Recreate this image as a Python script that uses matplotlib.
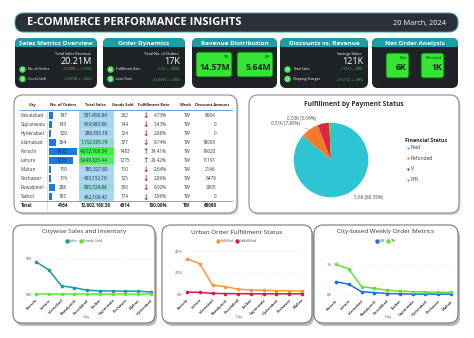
import math
import matplotlib
matplotlib.use('Agg')
import matplotlib.pyplot as plt
from matplotlib.patches import FancyBboxPatch, Circle, Rectangle
from matplotlib.lines import Line2D
from matplotlib.colors import LinearSegmentedColormap, Normalize

plt.rcParams['font.family'] = ['Open Sans', 'DejaVu Sans']

W, H = 474, 338

# ---- table data ----
cities = ['Faisalabad', 'Gujranwala', 'Hyderabad', 'Islamabad', 'Karachi',
          'Lahore', 'Multan', 'Peshawar', 'Rawalpindi', 'Sialkot']
orders = [197, 143, 120, 364, 1433, 1225, 110, 119, 288, 165]
total_sales = [531456.84, 419983.86, 289305.18, 1152505.74, 4612769.34,
               3449825.44, 385327.80, 403152.10, 895724.86, 462109.42]
goods_sold = [202, 144, 124, 377, 1483, 1275, 110, 125, 300, 174]
fulfil_rate = [4.73, 3.43, 2.88, 8.74, 34.41, 29.42, 2.64, 2.86, 6.92, 3.96]
week = ['TW'] * 10
discount = [8664, 0, 0, 18093, 19620, 11191, 2146, 6479, 2905, 0]
table_headers = ['City', 'No. of Orders', 'Total Sales', 'Goods Sold',
                 'Fulfillment Rate', 'Week', 'Discount Amount']

# ---- pie data ----
pay_status = ['Paid', 'Refunded', 'V', 'P/R']
pay_share = [86.35, 7.85, 5.04, 0.76]
pay_count = ['5.6K', '0.51K', '0.33K', '0.05K']
pay_colors = ['#2ec5d3', '#f47b2a', '#d62846', '#62d43a']

# ---- line chart data ----
sales_cities = ['Karachi', 'Lahore', 'Islamabad', 'Rawalpindi', 'Faisalabad',
                'Sialkot', 'Gujranwala', 'Peshawar', 'Multan', 'Hyderabad']
sales_m = [4.61, 3.45, 1.15, 0.90, 0.53, 0.46, 0.42, 0.40, 0.39, 0.29]
goods_units = [1483, 1275, 377, 300, 202, 174, 144, 125, 110, 124]

fulfil_cities = ['Karachi', 'Lahore', 'Islamabad', 'Rawalpindi', 'Faisalabad',
                 'Sialkot', 'Gujranwala', 'Hyderabad', 'Peshawar', 'Multan']
fulfilled_pct = [32.9, 28.3, 8.3, 6.8, 4.6, 3.7, 3.4, 3.1, 3.0, 2.8]
unfulfilled_pct = [1.8, 1.5, 0.6, 0.4, 0.3, 0.3, 0.2, 0.2, 0.2, 0.2]

week_cities = ['Karachi', 'Lahore', 'Islamabad', 'Rawalpindi', 'Faisalabad',
               'Sialkot', 'Gujranwala', 'Hyderabad', 'Peshawar', 'Multan']
tw_k = [1.02, 0.87, 0.28, 0.22, 0.16, 0.13, 0.11, 0.10, 0.09, 0.09]
lw_k = [0.44, 0.36, 0.11, 0.08, 0.05, 0.04, 0.03, 0.03, 0.03, 0.03]

# ---- KPI cards ----
kpi_titles = ['Sales Metrics Overview', 'Order Dynamics', 'Revenue Distribution',
              'Discounts vs. Revenue', 'Net Order Analysis']
kpi_caption = ['Total Sales Revenue', 'Total No. of Orders', None, 'Savings Value', None]
kpi_value = ['20.21M', '17K', None, '121K', None]
kpi_rows = [
    [('No. of Orders', '+20.18M \u2193 +1166%'), ('Goods Sold', '+20.21M \u2193 +28k%')],
    [('Fulfillment Rate', '+11K \u2193 +183%'), ('Lead Time', '+16,836% \u2193 +90%')],
    None,
    [('Total Sales', '+121K \u2193 +88%'), ('Shipping Charges', '+116,712 \u2193 +88%')],
    None,
]
rev_labels = ['TW', 'LW']
rev_values = ['14.57M', '5.64M']
net_labels = ['Paid', 'Refunded']
net_values = ['6K', '1K']

fig = plt.figure(figsize=(W / 100, H / 100), dpi=100)
fig.patch.set_facecolor('white')
bg = fig.add_axes([0, 0, 1, 1])
bg.set_xlim(0, W)
bg.set_ylim(H, 0)
bg.axis('off')


def px_axes(x, y, w, h):
    return fig.add_axes([x / W, 1 - (y + h) / H, w / W, h / H])


def rbox(x, y, w, h, fc, ec='none', r=6, lw=0.8, z=1):
    p = FancyBboxPatch((x, y), w, h, boxstyle=f'round,pad=0,rounding_size={r}',
                       fc=fc, ec=ec, lw=lw, zorder=z)
    bg.add_patch(p)
    return p


# header
rbox(15, 13, 443, 19, '#2c3037', ec='#3a9fa3', r=9, lw=0.7)
bg.text(27, 22.8, 'E-COMMERCE PERFORMANCE INSIGHTS', color='white', fontsize=8,
        fontweight='bold', va='center', ha='left')
bg.text(446, 23, '20 March, 2024', color='white', fontsize=5.3, va='center', ha='right')

# KPI cards
card_x = [(15, 97), (103, 185), (192, 277), (280, 368), (372, 458)]
green_txt = '#3fd14d'
for i, (x0, x1) in enumerate(card_x):
    w = x1 - x0
    rbox(x0, 38, w, 50, '#1f2327', r=6, z=2)
    rbox(x0, 38, w, 12, '#1a9fa6', r=6, z=3)
    bg.add_patch(Rectangle((x0 + 0.5, 47), w - 1, 4, fc='#1f2327', zorder=3))
    bg.text((x0 + x1) / 2, 43.5, kpi_titles[i], color='white', fontsize=4.6,
            fontweight='bold', ha='center', va='center', zorder=4)
    if kpi_value[i] is not None:
        bg.text(x1 - 6, 54, kpi_caption[i], color='white', fontsize=2.8,
                ha='right', va='center', zorder=4)
        bg.text(x1 - 5, 61, kpi_value[i], color='white', fontsize=6.5,
                ha='right', va='center', zorder=4)
        for j, (lab, val) in enumerate(kpi_rows[i]):
            yy = 69.5 + 9.5 * j
            bg.add_patch(Circle((x0 + 7.5, yy), 3.3, fc='#3fdc4a', zorder=4))
            bg.add_patch(Circle((x0 + 7.5, yy), 1.3, fc='none', ec='white', lw=0.4, zorder=5))
            bg.text(x0 + 13, yy, lab, color='white', fontsize=2.4, ha='left',
                    va='center', zorder=4)
            bg.text(x1 - 5, yy, val, color=green_txt, fontsize=2.4, ha='right',
                    va='center', zorder=4)

# revenue distribution boxes
for (bx, lab, val) in zip([196, 237], rev_labels, rev_values):
    rbox(bx, 52, 36, 25, '#34e634', ec='#0f4f12', r=2.5, lw=0.7, z=4)
    bg.text(bx + 33, 57, lab, color='#123312', fontsize=2.6, ha='right', va='center', zorder=5)
    bg.text(bx + 34, 68, val, color='#0f2a10', fontsize=6.3, fontweight='bold',
            ha='right', va='center', zorder=5)

# net order boxes
for (bx, lab, val) in zip([386, 421], net_labels, net_values):
    rbox(bx, 53, 23, 25, '#34e634', ec='#0f4f12', r=2.5, lw=0.7, z=4)
    bg.text(bx + 21, 58, lab, color='#123312', fontsize=2.6, ha='right', va='center', zorder=5)
    bg.text(bx + 21, 68, val, color='#0f2a10', fontsize=6.3, fontweight='bold',
            ha='right', va='center', zorder=5)

# middle panels
for (x, y, w, h) in [(14, 95, 223, 118), (249, 95, 210, 118)]:
    rbox(x + 1.5, y + 2, w, h, '#cfcfcf', r=9, z=1)
    rbox(x, y, w, h, 'white', ec='#8c8c8c', r=9, lw=0.8, z=2)

# bottom panels
for (x, y, w, h) in [(13, 225, 142, 98), (162, 225, 150, 98), (314, 225, 144, 98)]:
    rbox(x + 2, y + 3, w, h, '#b9b9b9', r=9, z=1)
    rbox(x, y, w, h, 'white', ec='#777777', r=9, lw=0.8, z=2)

# ---- table ----
txt = '#3a3a3a'
fs_t = 3.3
hdr_x = [33, 63, 95, 123, 154, 186, 212]
for hx, htxt in zip(hdr_x, table_headers):
    bg.text(hx, 105, htxt, fontsize=2.9, fontweight='bold', color='#222',
            ha='center', va='center', zorder=5)
bg.plot([20, 232], [110.3, 110.3], color='#6aa3d8', lw=0.7, zorder=5)
bg.plot([47, 47], [110.5, 210], color='#c9d3df', lw=0.5, zorder=5)
bg.plot([20, 232], [200.8, 200.8], color='#555', lw=0.4, zorder=5)

row_y0, row_h = 115.3, 9.05
ax_ord = px_axes(49, row_y0 - row_h / 2, 28, row_h * 10)
ax_ord.barh(range(len(orders)), orders, height=0.72, color='#1f79d8')
ax_ord.set_xlim(0, max(orders))
ax_ord.set_ylim(len(orders) - 0.5, -0.5)
ax_ord.axis('off')

cmap = LinearSegmentedColormap.from_list('sales', ['#a8d3f5', '#37f437'])
norm = Normalize(min(total_sales), max(total_sales))
ax_sal = px_axes(79, row_y0 - row_h / 2, 35, row_h * 10)
ax_sal.barh(range(len(total_sales)), [1] * len(total_sales), height=1.0,
            color=[cmap(norm(v)) for v in total_sales], edgecolor='white', linewidth=0.15)
ax_sal.set_xlim(0, 1)
ax_sal.set_ylim(len(total_sales) - 0.5, -0.5)
ax_sal.axis('off')

for i, c in enumerate(cities):
    yy = row_y0 + i * row_h
    bg.text(21, yy, c, fontsize=fs_t, color=txt, ha='left', va='center', zorder=5)
    ax_ord.text(67, yy, str(orders[i]), fontsize=fs_t, color='#1a2a44', ha='right',
                va='center', transform=bg.transData, clip_on=False)
    ax_sal.text(108, yy, f'{total_sales[i]:,.2f}', fontsize=fs_t, color='#1a2a44', ha='right',
                va='center', transform=bg.transData, clip_on=False)
    bg.text(125, yy, str(goods_sold[i]), fontsize=fs_t, color=txt, ha='center', va='center', zorder=5)
    up = fulfil_rate[i] > 10
    bg.text(146, yy + 0.3, '\u2191' if up else '\u2193', fontsize=5.5, fontweight='bold',
            color='#3a8f55' if up else '#c9302c', ha='center', va='center', zorder=5,
            family='DejaVu Sans')
    bg.text(167, yy, f'{fulfil_rate[i]:.2f}%', fontsize=fs_t, color=txt, ha='right',
            va='center', zorder=5)
    bg.text(187, yy, week[i], fontsize=fs_t, color=txt, ha='center', va='center', zorder=5)
    bg.text(216, yy, str(discount[i]), fontsize=fs_t, color=txt, ha='right', va='center', zorder=5)

ty = 205.3
tot_kw = dict(fontsize=fs_t, fontweight='bold', color='#222', va='center', zorder=5)
bg.text(21, ty, 'Total', ha='left', **tot_kw)
bg.text(68, ty, str(sum(orders)), ha='right', **tot_kw)
bg.text(111, ty, f'{sum(total_sales):,.2f}', ha='right', **tot_kw)
bg.text(125, ty, str(sum(goods_sold)), ha='center', **tot_kw)
bg.text(167, ty, '100.00%', ha='right', **tot_kw)
bg.text(187, ty, 'TW', ha='center', **tot_kw)
bg.text(217, ty, str(sum(discount)), ha='right', **tot_kw)

# ---- pie ----
bg.text(354, 104, 'Fulfillment by Payment Status', fontsize=4.8, fontweight='bold',
        color='#333', ha='center', va='center', zorder=5)
ax_pie = px_axes(293, 122, 76, 76)
wedges, _ = ax_pie.pie(pay_share, colors=pay_colors, startangle=90, counterclock=False,
                       radius=1, wedgeprops=dict(linewidth=0))
ax_pie.set_xlim(-1.02, 1.02)
ax_pie.set_ylim(-1.02, 1.02)
ax_pie.set_aspect('equal')

label_pos = [(354, 198, 'left'), (300, 124, 'right'), (316, 118.5, 'right')]
for k, (lx, ly, ha) in enumerate(label_pos):
    wdg = wedges[k]
    mid = math.radians((wdg.theta1 + wdg.theta2) / 2)
    ax_pie.annotate(f'{pay_count[k]} ({pay_share[k]:.2f}%)',
                    xy=(math.cos(mid), math.sin(mid)), xycoords='data',
                    xytext=(lx, ly), textcoords=bg.transData,
                    fontsize=3.3, color='#444', ha=ha, va='center',
                    arrowprops=dict(arrowstyle='-', color='#9a9a9a', lw=0.4,
                                    shrinkA=1.5, shrinkB=0))

bg.text(405, 140, 'Financial Status', fontsize=3.8, fontweight='bold', color='#222',
        ha='left', va='center', zorder=5)
for k, (lab, col) in enumerate(zip(pay_status, pay_colors)):
    yy = 147.5 + 10.7 * k
    bg.scatter([408.5], [yy], s=3, color=col, zorder=5, linewidths=0)
    bg.text(411, yy, lab, fontsize=3.6, color='#333', ha='left', va='center', zorder=5)


# ---- line charts ----
def line_panel(rect, cats, series, ylim, yticks, ylabels, title, title_x, leg_y=241):
    ax = px_axes(*rect)
    ax.set_facecolor('none')
    for vals, col, lab in series:
        ax.plot(range(len(cats)), vals, color=col, lw=1.1, marker='o', ms=1.6,
                label=lab, clip_on=False, zorder=3)
    ax.set_xlim(-0.1, len(cats) - 0.9)
    ax.set_ylim(*ylim)
    ax.set_yticks(yticks)
    ax.set_yticklabels(ylabels, fontsize=3.0, color='#555')
    ax.set_xticks(range(len(cats)))
    ax.set_xticklabels(cats, rotation=45, ha='right', rotation_mode='anchor',
                       fontsize=2.8, color='#222', fontweight='semibold')
    ax.tick_params(length=0, pad=2)
    for s in ax.spines.values():
        s.set_visible(False)
    ax.grid(axis='y', color='#d8d8d8', lw=0.4, ls=':')
    ax.set_axisbelow(True)
    handles = [Line2D([], [], ls='none', marker='o', ms=2.2, color=c) for _, c, _ in series]
    ax.legend(handles, [l for _, _, l in series], loc='center',
              bbox_to_anchor=(title_x / W, 1 - leg_y / H), bbox_transform=fig.transFigure,
              ncol=len(series), fontsize=2.6, frameon=False, handlelength=0.6,
              handletextpad=0.3, columnspacing=0.8, labelcolor='#555')
    bg.text(title_x, 232, title, fontsize=4.6, color='#333', ha='center', va='center', zorder=5)
    bg.text(title_x + 2, 317, 'City', fontsize=3.0, color='#555', ha='center', va='center', zorder=5)
    return ax


line_panel((34.7, 255.5, 117.6, 39.9), sales_cities,
           [(sales_m, '#1c9aa8', 'Sales'), ([g / 1e6 for g in goods_units], '#5fe83a', 'Goods Sold')],
           (-0.2, 5.5), [0, 5], ['0M', '5M'], 'Citywise Sales and Inventory', 84)
line_panel((185.7, 248.9, 117.6, 46.2), fulfil_cities,
           [(fulfilled_pct, '#f59a3c', 'Fulfilled'), (unfulfilled_pct, '#d42040', 'Unfulfilled')],
           (-1, 42), [0, 20, 40], ['0%', '20%', '40%'], 'Urban Order Fulfillment Status', 237)
line_panel((334.7, 260.5, 117.6, 35.7), week_cities,
           [(lw_k, '#1e6fd9', 'LW'), (tw_k, '#62e23a', 'TW')],
           (-0.04, 1.15), [0, 1], ['0K', '1K'], 'City-based Weekly Order Metrics', 386)

plt.savefig('out.png', dpi=100)
